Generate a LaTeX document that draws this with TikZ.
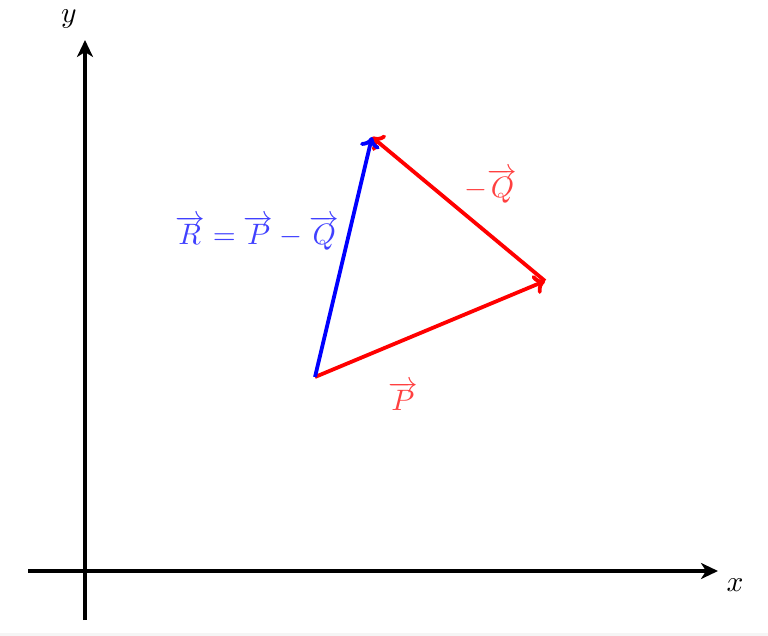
\documentclass[tikz,border=0pt]{standalone}
\usetikzlibrary{arrows.meta}
\begin{document}
\begin{tikzpicture}[x=1pt,y=-1pt,
  axis/.style={line width=4.6pt,-{Stealth[length=17pt,width=16pt,inset=5pt]}},
  vec/.style={line width=3.8pt,-{To[length=11pt,width=20pt]}},
  lbl/.style={scale=2.95}]
\useasboundingbox (0,0) rectangle (768,636);
\fill[gray!8] (0,633) rectangle (768,636);
% axes
\coordinate (xs) at (28,571);
\coordinate (xe) at (718,571);
\coordinate (ys) at (85,620);
\coordinate (ye) at (85,40);
\draw[axis] (xs) -- (xe);
\draw[axis] (ys) -- (ye);
\node[lbl] (xl) at (735,585) {$x$};
\node[lbl] (yl) at (69,19) {$y$};
% triangle
\coordinate (A) at (315,377);
\coordinate (B) at (545,281);
\coordinate (C) at (372,137);
\draw[vec,red] (A) -- (B);
\draw[vec,red] (B) -- (C);
\draw[vec,blue] (A) -- (C);
\node[lbl,text=red!75] (pl) at (403,396) {$\overrightarrow{P}$};
\node[lbl,text=red!75] (ql) at (491,186) {$-\overrightarrow{Q}$};
\node[lbl,text=blue!75] (rl) at (257,233) {$\overrightarrow{R}=\overrightarrow{P}-\overrightarrow{Q}$};
\end{tikzpicture}
\end{document}
